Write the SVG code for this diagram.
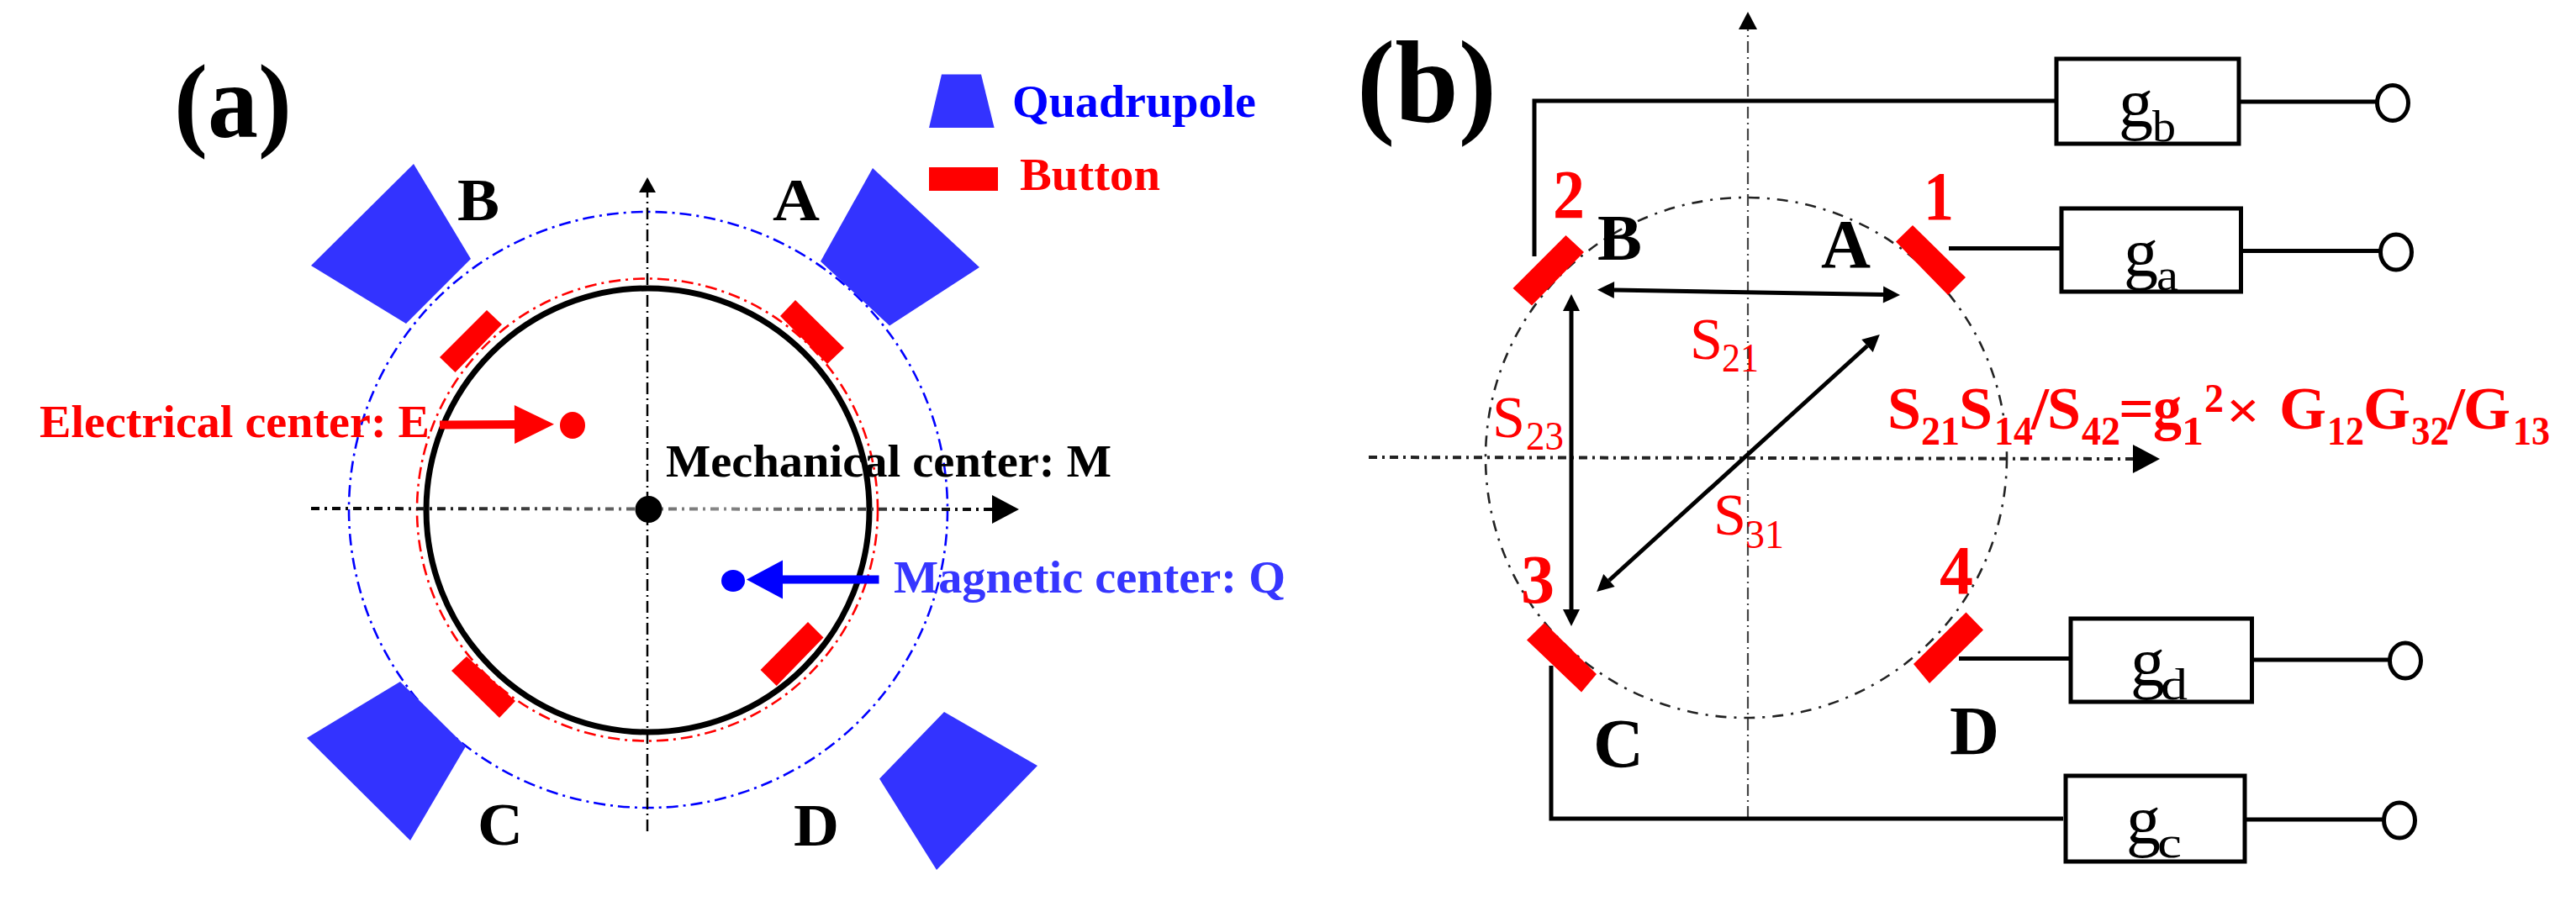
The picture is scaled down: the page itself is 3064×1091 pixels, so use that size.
<svg xmlns="http://www.w3.org/2000/svg" width="3064" height="1091" viewBox="0 0 3064 1091">
<style>
text{font-family:"Liberation Serif","Times New Roman",serif}
.b{font-weight:bold}
.k{fill:#000}.r{fill:#f00}.bl{fill:#00f}.bm{fill:#3636ff}
.quad{fill:#3333ff}
.btn{fill:#f00}
.box{fill:none;stroke:#000;stroke-width:5}
.wire{fill:none;stroke:#000;stroke-width:5}
.term{fill:#fff;stroke:#000;stroke-width:5}
.ring{fill:none;stroke-width:2.6}
.axis{fill:none;stroke:#000;stroke-width:2.5;stroke-dasharray:14 5 2 5}
.arr{fill:none;stroke:#000;stroke-width:5}
</style>
<defs>
<marker id="hv" markerUnits="userSpaceOnUse" markerWidth="20" markerHeight="20" refX="0" refY="10" orient="auto" overflow="visible"><path d="M0,0L18,10L0,20Z"/></marker>
<marker id="hb" markerUnits="userSpaceOnUse" markerWidth="22" markerHeight="22" refX="0" refY="11" orient="auto" overflow="visible"><path d="M0,0L21,11L0,22Z"/></marker>
<marker id="hh" markerUnits="userSpaceOnUse" markerWidth="34" markerHeight="34" refX="0" refY="17" orient="auto" overflow="visible"><path d="M0,0L32,17L0,34Z"/></marker>
<marker id="hs" markerUnits="userSpaceOnUse" markerWidth="20" markerHeight="20" refX="0" refY="10" orient="auto-start-reverse" overflow="visible"><path d="M0,0L20,10L0,20Z"/></marker>
<marker id="hr" markerUnits="userSpaceOnUse" markerWidth="48" markerHeight="46" refX="0" refY="23" orient="auto" overflow="visible"><path d="M0,0L47,23L0,46Z" fill="#f00"/></marker>
<marker id="hq" markerUnits="userSpaceOnUse" markerWidth="44" markerHeight="46" refX="0" refY="23" orient="auto" overflow="visible"><path d="M0,0L43,23L0,46Z" fill="#00f"/></marker>
<linearGradient id="axg" gradientUnits="userSpaceOnUse" x1="370" y1="0" x2="1180" y2="0"><stop offset="0" stop-color="#000"/><stop offset=".2" stop-color="#222"/><stop offset=".6" stop-color="#888"/><stop offset="1" stop-color="#000"/></linearGradient>
</defs>
<rect width="3064" height="1091" fill="#fff"/>

<g id="panel-a-rings">
<ellipse class="ring" cx="771" cy="606.5" rx="356" ry="354.5" stroke="#00f" stroke-dasharray="14 6 3 6"/>
<ellipse class="ring" cx="770" cy="606.5" rx="274" ry="275" stroke="#f00" stroke-dasharray="14 6 3 6"/>
<ellipse cx="770.5" cy="607" rx="263.5" ry="264" fill="none" stroke="#000" stroke-width="7"/>
</g>
<g id="connectors">
<line class="axis" x1="770" y1="989" x2="770" y2="229" marker-end="url(#hv)"/>
<line x1="370" y1="605" x2="1180" y2="606" fill="none" stroke="url(#axg)" stroke-width="4" stroke-dasharray="10 6 3 6" marker-end="url(#hh)"/>
<line x1="523" y1="505.5" x2="612" y2="505" stroke="#f00" stroke-width="10" marker-end="url(#hr)"/>
<line x1="1045.5" y1="689.5" x2="931" y2="689.5" stroke="#00f" stroke-width="10" marker-end="url(#hq)"/>
<line x1="2079" y1="973" x2="2079" y2="35" fill="none" stroke="#444" stroke-width="2.2" stroke-dasharray="14 5 2 5" marker-end="url(#hb)"/>
<line x1="1628" y1="544" x2="2537" y2="546" fill="none" stroke="#222" stroke-width="4" stroke-dasharray="10 6 3 6" marker-end="url(#hh)"/>
<ellipse class="ring" cx="2077" cy="544.5" rx="310" ry="309.5" stroke="#222" stroke-dasharray="13 9 3 9"/>
<path class="wire" d="M1825,305V120H2446"/>
<path class="wire" d="M1845,792V974H2454"/>
<line class="wire" x1="2318" y1="295.5" x2="2452" y2="295.5"/>
<line class="wire" x1="2330" y1="783.5" x2="2463" y2="783.5"/>
<line class="wire" x1="2663" y1="121" x2="2827" y2="121"/>
<line class="wire" x1="2665" y1="298.5" x2="2831" y2="298.5"/>
<line class="wire" x1="2678" y1="785" x2="2842" y2="785"/>
<line class="wire" x1="2670" y1="975" x2="2835" y2="975"/>
<line class="arr" x1="1920" y1="345" x2="2240" y2="350.6" marker-start="url(#hs)" marker-end="url(#hs)"/>
<line class="arr" x1="1869" y1="370" x2="1869" y2="725" marker-start="url(#hs)" marker-end="url(#hs)"/>
<line class="arr" x1="2221" y1="411.5" x2="1914" y2="690.5" marker-start="url(#hs)" marker-end="url(#hs)"/>
</g>

<g id="quadrupole-a"><polygon class="quad" points="1038,200 1165,318 1058,387.5 976,311"/><text class="b k" x="919" y="262" font-size="72" textLength="56" lengthAdjust="spacingAndGlyphs">A</text></g>
<g id="quadrupole-b"><polygon class="quad" points="492,195 560,308 483,385 370,316"/><text class="b k" x="544" y="262" font-size="72" textLength="50" lengthAdjust="spacingAndGlyphs">B</text></g>
<g id="quadrupole-c"><polygon class="quad" points="476,811 554,888 488,1000 365,878"/><text class="b k" x="568" y="1005" font-size="72" textLength="54" lengthAdjust="spacingAndGlyphs">C</text></g>
<g id="quadrupole-d"><polygon class="quad" points="1123,847 1234,911 1114,1035 1046,926.5"/><text class="b k" x="944" y="1006" font-size="72" textLength="54" lengthAdjust="spacingAndGlyphs">D</text></g>
<g id="button-a-a"><polygon class="btn" points="946,357 1004,414 984,433 928,376"/></g>
<g id="button-a-b"><polygon class="btn" points="579,369 597,386 541.5,443 523,425"/></g>
<g id="button-a-c"><polygon class="btn" points="555,781 613,834 594,854 537,798"/></g>
<g id="button-a-d"><polygon class="btn" points="961,740 979.5,758.5 923.7,816 904.5,797"/></g>
<g id="legend-quadrupole"><polygon class="quad" points="1120,88.6 1167,88.6 1182.6,152 1105,152"/><text class="b bl" x="1204" y="139" font-size="54" textLength="290" lengthAdjust="spacingAndGlyphs">Quadrupole</text></g>
<g id="legend-button"><rect class="btn" x="1105" y="199" width="82" height="28"/><text class="b r" x="1213" y="226" font-size="54" textLength="167" lengthAdjust="spacingAndGlyphs">Button</text></g>
<g id="label-a"><text class="b k" x="207" y="163" font-size="125" textLength="140" lengthAdjust="spacingAndGlyphs">(a)</text></g>
<g id="center-e"><ellipse class="btn" cx="681" cy="506" rx="15" ry="16"/><text class="b r" x="47" y="520" font-size="54" textLength="464" lengthAdjust="spacingAndGlyphs">Electrical center: E</text></g>
<g id="center-m"><ellipse cx="771.5" cy="606" rx="16" ry="16"/><text class="b k" x="792" y="567" font-size="54" textLength="530" lengthAdjust="spacingAndGlyphs">Mechanical center: M</text></g>
<g id="center-q"><ellipse cx="872" cy="691" rx="14" ry="13" fill="#00f"/><text class="b bm" x="1063" y="705" font-size="54" textLength="466" lengthAdjust="spacingAndGlyphs">Magnetic center: Q</text></g>

<g id="label-b"><text class="b k" x="1614" y="145" font-size="140" textLength="166" lengthAdjust="spacingAndGlyphs">(b)</text></g>
<g id="button-1"><polygon class="btn" points="2275,268 2338,330 2317,351 2255,287.5"/><text class="b r" x="2288" y="261" font-size="82" textLength="36" lengthAdjust="spacingAndGlyphs">1</text><text class="b k" x="2166" y="318" font-size="82" textLength="59" lengthAdjust="spacingAndGlyphs">A</text></g>
<g id="button-2"><polygon class="btn" points="1862.5,280 1884,300 1822,363.5 1799.5,343"/><text class="b r" x="1847" y="259" font-size="82" textLength="38" lengthAdjust="spacingAndGlyphs">2</text><text class="b k" x="1900" y="309" font-size="78" textLength="53" lengthAdjust="spacingAndGlyphs">B</text></g>
<g id="button-3"><polygon class="btn" points="1837,741 1899,802 1881,823.5 1816,761.5"/><text class="b r" x="1809" y="717" font-size="82" textLength="40" lengthAdjust="spacingAndGlyphs">3</text><text class="b k" x="1895" y="912" font-size="82" textLength="60" lengthAdjust="spacingAndGlyphs">C</text></g>
<g id="button-4"><polygon class="btn" points="2338.5,728.6 2359,749.6 2295,813 2276,790"/><text class="b r" x="2307" y="706" font-size="82" textLength="40" lengthAdjust="spacingAndGlyphs">4</text><text class="b k" x="2319" y="897" font-size="82" textLength="59" lengthAdjust="spacingAndGlyphs">D</text></g>

<g id="gb"><rect class="box" x="2446" y="70" width="217" height="101"/><ellipse class="term" cx="2846" cy="122.5" rx="18.5" ry="21"/><text class="k" x="2520" y="150" font-size="82" textLength="41" lengthAdjust="spacingAndGlyphs">g</text><text class="k" x="2560" y="168" font-size="52" textLength="28" lengthAdjust="spacingAndGlyphs">b</text></g>
<g id="ga"><rect class="box" x="2452" y="248" width="213.5" height="99"/><ellipse class="term" cx="2850" cy="300" rx="18.5" ry="21"/><text class="k" x="2526" y="328" font-size="82" textLength="41" lengthAdjust="spacingAndGlyphs">g</text><text class="k" x="2565" y="345" font-size="52" textLength="26" lengthAdjust="spacingAndGlyphs">a</text></g>
<g id="gd"><rect class="box" x="2463" y="736" width="215.5" height="99"/><ellipse class="term" cx="2861" cy="786" rx="18.5" ry="21"/><text class="k" x="2534" y="815" font-size="82" textLength="41" lengthAdjust="spacingAndGlyphs">g</text><text class="k" x="2570" y="832" font-size="52" textLength="32" lengthAdjust="spacingAndGlyphs">d</text></g>
<g id="gc"><rect class="box" x="2457" y="923" width="213" height="102"/><ellipse class="term" cx="2854" cy="976" rx="18.5" ry="21"/><text class="k" x="2529" y="1003" font-size="82" textLength="41" lengthAdjust="spacingAndGlyphs">g</text><text class="k" x="2566" y="1020" font-size="52" textLength="29" lengthAdjust="spacingAndGlyphs">c</text></g>

<g id="s21"><text class="r" x="2010" y="427" font-size="70" textLength="39" lengthAdjust="spacingAndGlyphs">S</text><text class="r" x="2048" y="442" font-size="48" textLength="44" lengthAdjust="spacingAndGlyphs">21</text></g>
<g id="s23"><text class="r" x="1775" y="519.5" font-size="70" textLength="39" lengthAdjust="spacingAndGlyphs">S</text><text class="r" x="1815" y="534.5" font-size="48" textLength="45" lengthAdjust="spacingAndGlyphs">23</text></g>
<g id="s31"><text class="r" x="2038" y="636" font-size="70" textLength="39" lengthAdjust="spacingAndGlyphs">S</text><text class="r" x="2076" y="652" font-size="48" textLength="46" lengthAdjust="spacingAndGlyphs">31</text></g>

<g id="formula">
<text class="b r" x="2245" y="510" font-size="72" textLength="40" lengthAdjust="spacingAndGlyphs">S</text>
<text class="b r" x="2285" y="529" font-size="48" textLength="46" lengthAdjust="spacingAndGlyphs">21</text>
<text class="b r" x="2330" y="510" font-size="72" textLength="40" lengthAdjust="spacingAndGlyphs">S</text>
<text class="b r" x="2372" y="529" font-size="48" textLength="46" lengthAdjust="spacingAndGlyphs">14</text>
<text class="b r" x="2416" y="510" font-size="72" textLength="21" lengthAdjust="spacingAndGlyphs">/</text>
<text class="b r" x="2435" y="510" font-size="72" textLength="40" lengthAdjust="spacingAndGlyphs">S</text>
<text class="b r" x="2476" y="529" font-size="48" textLength="46" lengthAdjust="spacingAndGlyphs">42</text>
<text class="b r" x="2520" y="510" font-size="72" textLength="42" lengthAdjust="spacingAndGlyphs">=</text>
<text class="b r" x="2561" y="510" font-size="72" textLength="34" lengthAdjust="spacingAndGlyphs">g</text>
<text class="b r" x="2595" y="529" font-size="48" textLength="26" lengthAdjust="spacingAndGlyphs">1</text>
<text class="b r" x="2622" y="490" font-size="48" textLength="23" lengthAdjust="spacingAndGlyphs">2</text>
<text class="b r" x="2648" y="510" font-size="64" textLength="40" lengthAdjust="spacingAndGlyphs">×</text>
<text class="b r" x="2711" y="510" font-size="72" textLength="56" lengthAdjust="spacingAndGlyphs">G</text>
<text class="b r" x="2768" y="529" font-size="48" textLength="44" lengthAdjust="spacingAndGlyphs">12</text>
<text class="b r" x="2811" y="510" font-size="72" textLength="56" lengthAdjust="spacingAndGlyphs">G</text>
<text class="b r" x="2868" y="529" font-size="48" textLength="45" lengthAdjust="spacingAndGlyphs">32</text>
<text class="b r" x="2911" y="510" font-size="72" textLength="21" lengthAdjust="spacingAndGlyphs">/</text>
<text class="b r" x="2930" y="510" font-size="72" textLength="56" lengthAdjust="spacingAndGlyphs">G</text>
<text class="b r" x="2989" y="529" font-size="48" textLength="44" lengthAdjust="spacingAndGlyphs">13</text>
</g>
</svg>
